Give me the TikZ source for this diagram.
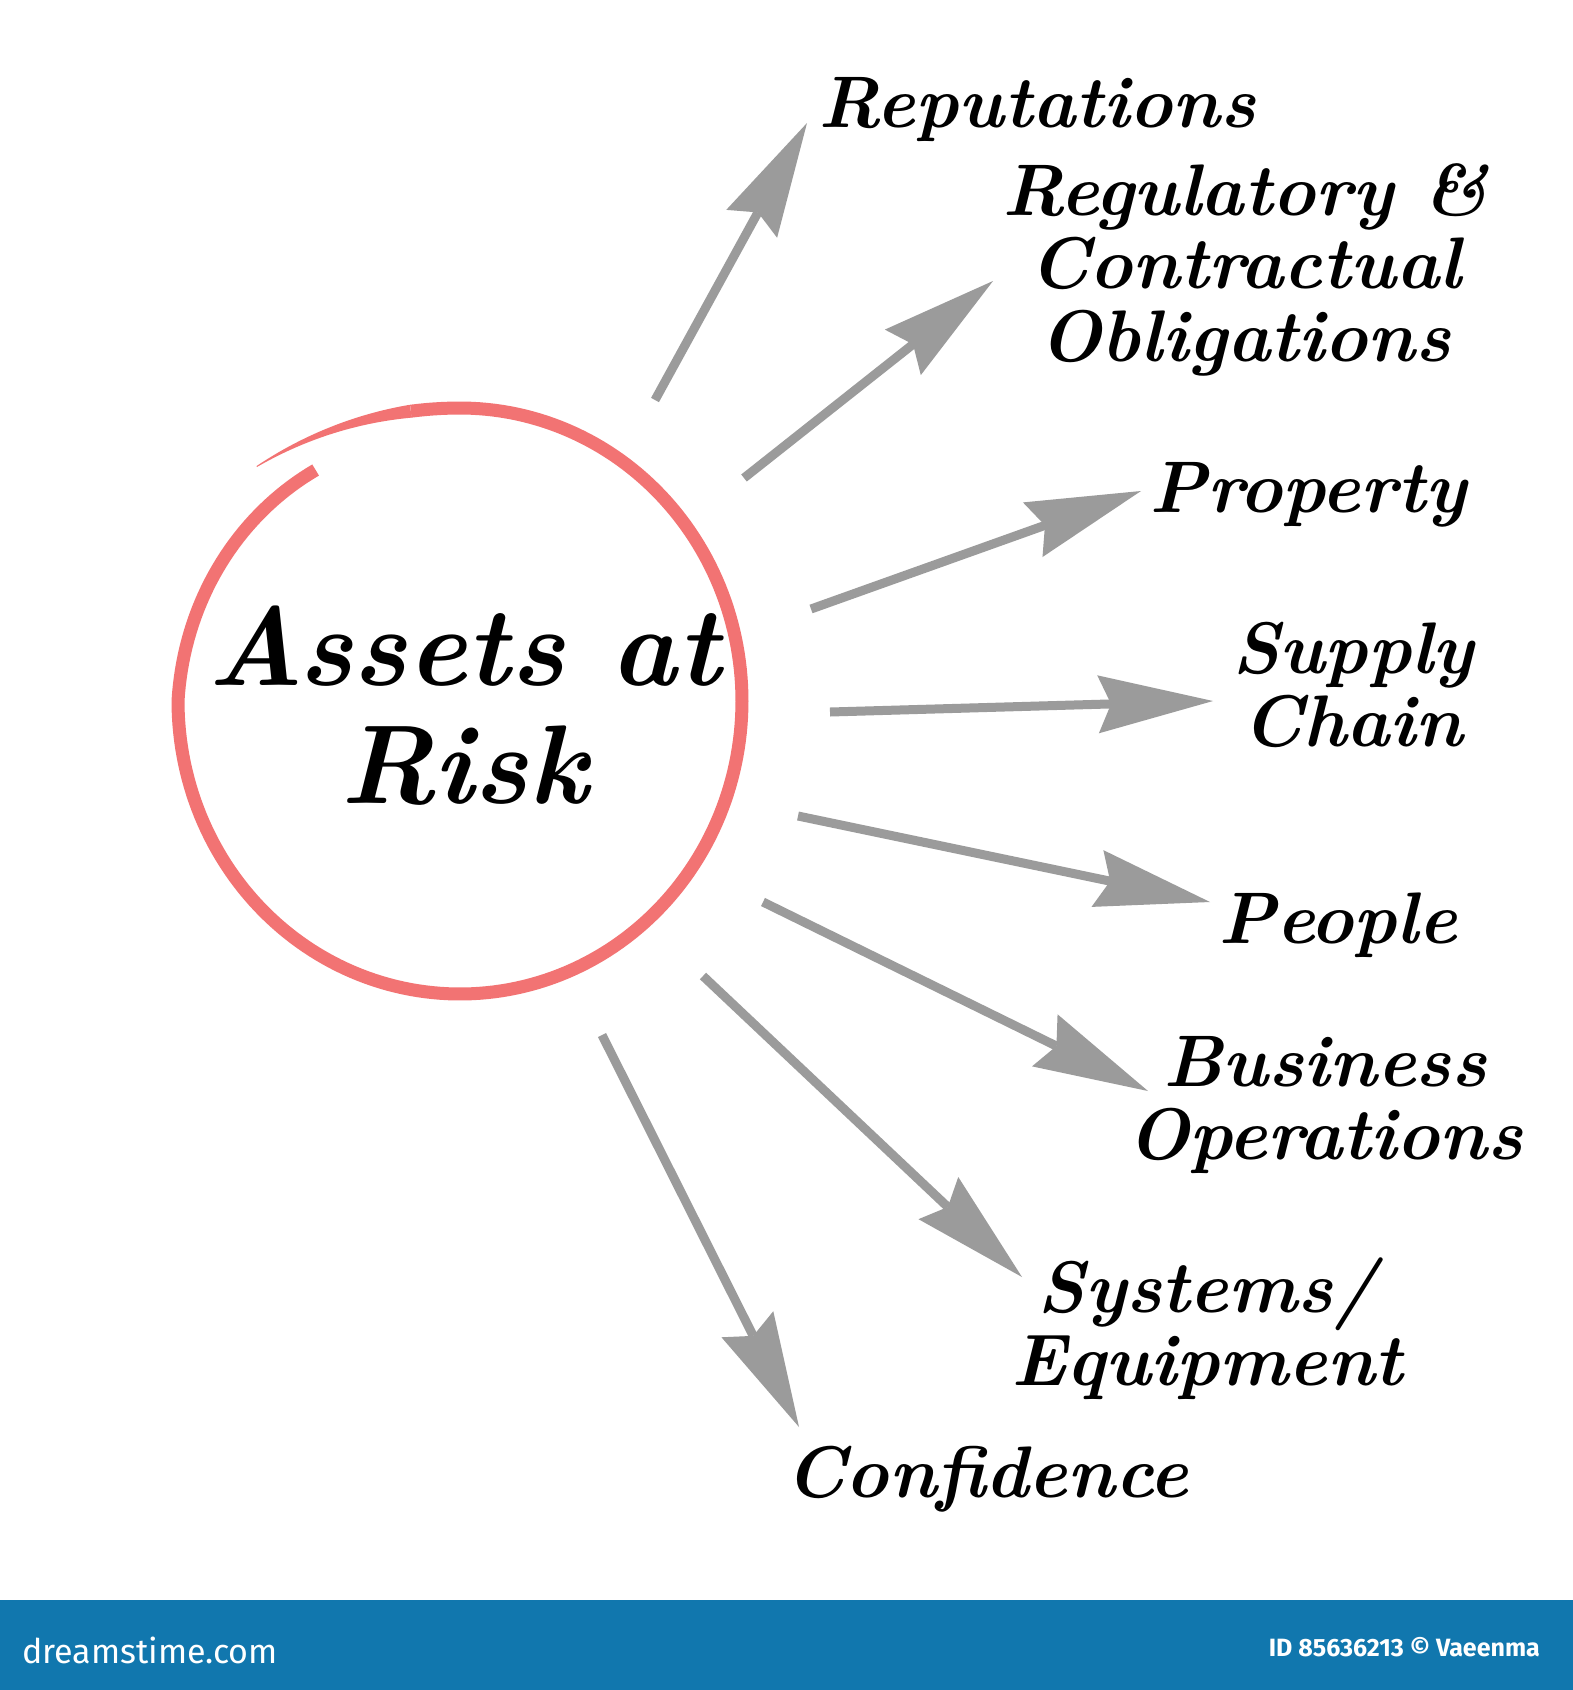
\documentclass[tikz,border=0pt]{standalone}
\usepackage{fontspec}
\newfontfamily\firafont{Fira Sans}
\usetikzlibrary{arrows.meta}
\definecolor{arrowgray}{RGB}{155,155,155}
\definecolor{ringred}{RGB}{242,115,115}
\definecolor{barblue}{RGB}{17,119,174}
\begin{document}
\begin{tikzpicture}[x=1pt,y=-1pt,
  declare function={rk(\t)=1-0.06*max(0,(\t-180)/57)+0.077*(max(0,(-90-\t)/42))^2; hw(\t)=0.5+6*(\t+132)/32;},
  riskarrow/.style={draw=arrowgray, line width=9pt, -{Stealth[length=115pt,width=58pt,inset=13pt,line width=0pt,fill=arrowgray]}},
  lbl/.style={font=\fontsize{73}{73}\selectfont\bfseries\itshape, align=center, anchor=base, inner sep=0pt},
  centerlbl/.style={font=\fontsize{112}{118}\selectfont\bfseries\itshape, align=center, anchor=base, inner sep=0pt}
]
\useasboundingbox (0,0) rectangle (1573,1690);
\fill[white] (0,0) rectangle (1573,1690);

% ring
\draw[ringred, line width=13pt] plot[domain=237:-100, samples=220] ({460+282*rk(\x)*cos(\x)},{701+293*rk(\x)*sin(\x)});
\fill[ringred] plot[domain=-100:-132, samples=40] ({460+(282*rk(\x)+hw(\x))*cos(\x)},{701+(293*rk(\x)+hw(\x))*sin(\x)})
  -- plot[domain=-132:-100, samples=40] ({460+(282*rk(\x)-hw(\x))*cos(\x)},{701+(293*rk(\x)-hw(\x))*sin(\x)}) -- cycle;

% base anchor of a multi-line node = baseline of its last line
\node[centerlbl] (assets) at (464,803) {Assets at\\Risk};

% labels
\node[lbl] (rep) at (1037,127) {Reputations};
\node[lbl] (reg) at (1245,361) {Regulatory \&\\Contractual\\Obligations};
\node[lbl] (prop) at (1308,512) {Property};
\node[lbl] (sup) at (1353,746) {Supply\\Chain};
\node[lbl] (peo) at (1338,943) {People};
\node[lbl] (bus) at (1325,1159) {Business\\Operations};
\node[lbl] (sys) at (1207,1385) {Systems/\\Equipment};
\node[lbl] (con) at (987,1497) {Confidence};

% arrow ends
\coordinate (t1) at (655,400);  \coordinate (h1) at (807,123);
\coordinate (t2) at (744,478);  \coordinate (h2) at (993,281);
\coordinate (t3) at (811,609);  \coordinate (h3) at (1141,491);
\coordinate (t4) at (830,712);  \coordinate (h4) at (1213,701);
\coordinate (t5) at (798,816);  \coordinate (h5) at (1210,902);
\coordinate (t6) at (763,902);  \coordinate (h6) at (1148,1091);
\coordinate (t7) at (703,976);  \coordinate (h7) at (1022,1277);
\coordinate (t8) at (602,1035); \coordinate (h8) at (799,1427);
\foreach \i in {1,...,8} {\draw[riskarrow] (t\i) -- (h\i);}

% bottom bar
\fill[barblue] (0,1600) rectangle (1573,1690);
\node[font=\firafont\fontsize{34}{40}\selectfont, text=white, anchor=west, inner sep=0pt] (dt) at (22,1650) {dreamstime.com};
\node[font=\firafont\bfseries\fontsize{25}{30}\selectfont, text=white, anchor=east, inner sep=0pt] (idtxt) at (1540,1647) {ID 85636213 © Vaeenma};
\end{tikzpicture}
\end{document}
